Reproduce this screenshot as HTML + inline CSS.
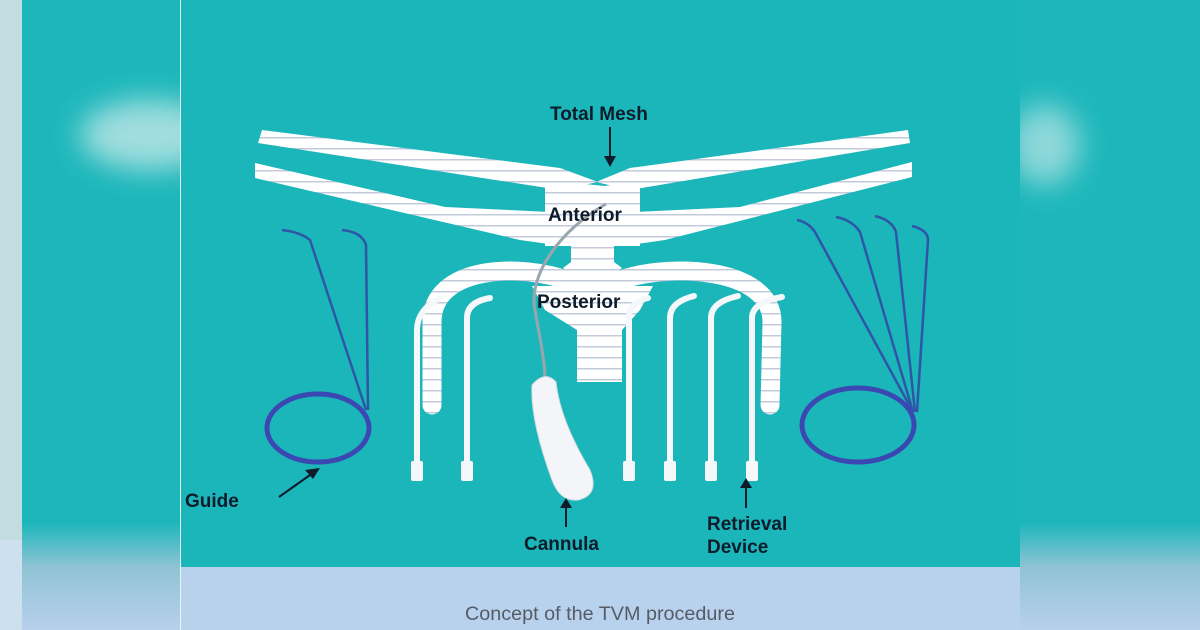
<!DOCTYPE html>
<html><head><meta charset="utf-8"><style>
html,body{margin:0;padding:0;width:1200px;height:630px;overflow:hidden;background:#b6cfeb}
svg{display:block}
text{font-family:"Liberation Sans",sans-serif;font-weight:bold;fill:#0e1b2a;font-size:19px}
</style></head><body>
<svg width="1200" height="630" viewBox="0 0 1200 630" xmlns="http://www.w3.org/2000/svg">
<defs>
<filter id="bl" x="-50%" y="-50%" width="200%" height="200%"><feGaussianBlur stdDeviation="14"/></filter>
<linearGradient id="sideL" x1="0" y1="0" x2="0" y2="1">
<stop offset="0" stop-color="#1db7bb"/><stop offset="0.83" stop-color="#1db7bb"/><stop offset="0.9" stop-color="#8fc3d4"/><stop offset="1" stop-color="#b8d0ec"/></linearGradient>
<pattern id="mesh" width="20" height="11" patternUnits="userSpaceOnUse"><rect width="20" height="11" fill="#fff"/><rect y="5" width="20" height="1.5" fill="#c3cbdb"/></pattern>
</defs>
<rect width="1200" height="630" fill="url(#sideL)"/>
<rect x="0" y="0" width="22" height="630" fill="#c2dcdf"/>
<rect x="0" y="540" width="22" height="90" fill="#cde0ef"/>
<ellipse cx="150" cy="135" rx="70" ry="35" fill="#d9eeee" opacity="0.7" filter="url(#bl)"/>
<ellipse cx="1045" cy="145" rx="35" ry="40" fill="#d9eeee" opacity="0.6" filter="url(#bl)"/>
<!-- main panel -->
<rect x="180" y="0" width="840" height="567" fill="#1bb6ba"/>
<rect x="180" y="567" width="840" height="63" fill="#b8d1ec"/>
<line x1="180.5" y1="0" x2="180.5" y2="630" stroke="#e8f4f6" stroke-width="1"/>
<text x="600" y="620" text-anchor="middle" style="font-weight:normal;font-size:19px;fill:#555c66;font-family:'Liberation Sans Narrow','Liberation Sans',sans-serif" textLength="270" lengthAdjust="spacingAndGlyphs">Concept of the TVM procedure</text>

<!-- mesh -->
<g fill="url(#mesh)">
<path d="M262 130 L560 168 L598 182 L560 190 L258 143 Z"/>
<path d="M908 130 L630 168 L596 182 L630 190 L910 143 Z"/>
<path d="M255 163 L445 207 L550 212 L556 245 L520 240 L255 178 Z"/>
<path d="M912 162 L740 207 L634 212 L630 245 L665 240 L912 177 Z"/>
<path d="M545 180 L605 186 L640 180 L640 246 L545 246 Z"/>
<path d="M571 240 L614 240 L614 262 L622 268 L614 275 L614 290 L571 290 L571 275 L563 268 L571 262 Z"/>
<path d="M532 286 L653 286 L640 310 L622 330 L622 382 L577 382 L577 330 L545 310 Z"/>
</g>
<g stroke="url(#mesh)" stroke-linecap="round" fill="none" stroke-width="19">
<path d="M572 282 C520 262 432 266 432 322 L432 405"/>
<path d="M615 282 C665 262 772 266 772 322 L770 405"/>
</g>

<!-- retrieval devices -->
<g stroke="#f5f8fa" stroke-width="6" fill="none" stroke-linecap="round">
<path d="M417 462 L417 330 Q417 310 440 298"/>
<path d="M467 462 L467 318 Q467 302 490 298"/>
<path d="M629 462 L629 318 Q629 302 648 298"/>
<path d="M670 462 L670 318 Q670 302 694 296"/>
<path d="M711 462 L711 318 Q711 302 738 296"/>
<path d="M752 462 L752 318 Q752 302 782 297"/>
</g>
<g fill="#f5f8fa">
<rect x="411" y="461" width="12" height="20" rx="2"/>
<rect x="461" y="461" width="12" height="20" rx="2"/>
<rect x="623" y="461" width="12" height="20" rx="2"/>
<rect x="664" y="461" width="12" height="20" rx="2"/>
<rect x="705" y="461" width="12" height="20" rx="2"/>
<rect x="746" y="461" width="12" height="20" rx="2"/>
</g>

<!-- cannula -->
<path d="M606 204 C560 230 528 275 535 310 C540 340 545 360 545 380" stroke="#9aa6ae" stroke-width="3" fill="none"/>
<path d="M532 385 Q545 370 556 382 Q560 420 590 470 Q600 495 578 500 Q560 502 552 480 Q530 420 532 385 Z" fill="#f3f5f8" stroke="#d5dbe3" stroke-width="1"/>

<!-- guides -->
<g stroke="#2f55a8" stroke-width="2.5" fill="none">
<path d="M366 410 L310 240 Q300 232 282 230"/>
<path d="M368 410 L366 245 Q362 232 342 230"/>
<path d="M913 412 L815 232 Q808 222 797 220"/>
<path d="M913 412 L860 232 Q852 220 836 217"/>
<path d="M915 412 L896 232 Q892 220 875 216"/>
<path d="M917 412 L928 240 Q928 230 912 226"/>
</g>
<ellipse cx="318" cy="428" rx="51" ry="34" fill="none" stroke="#3b48b2" stroke-width="5"/>
<ellipse cx="858" cy="425" rx="56" ry="37" fill="none" stroke="#3b48b2" stroke-width="5"/>

<!-- labels -->
<text x="550" y="120">Total Mesh</text>
<text x="548" y="221">Anterior</text>
<text x="537" y="308">Posterior</text>
<text x="185" y="507">Guide</text>
<text x="524" y="550">Cannula</text>
<text x="707" y="530">Retrieval</text>
<text x="707" y="553">Device</text>
<g stroke="#0e1b2a" stroke-width="2" fill="#0e1b2a">
<line x1="610" y1="127" x2="610" y2="158"/><polygon points="604,156 616,156 610,167" stroke="none"/>
<line x1="279" y1="497" x2="310" y2="475"/><polygon points="305,470 313,479 320,468" stroke="none"/>
<line x1="566" y1="527" x2="566" y2="506"/><polygon points="560,508 572,508 566,498" stroke="none"/>
<line x1="746" y1="508" x2="746" y2="486"/><polygon points="740,488 752,488 746,478" stroke="none"/>
</g>
</svg>
</body></html>
